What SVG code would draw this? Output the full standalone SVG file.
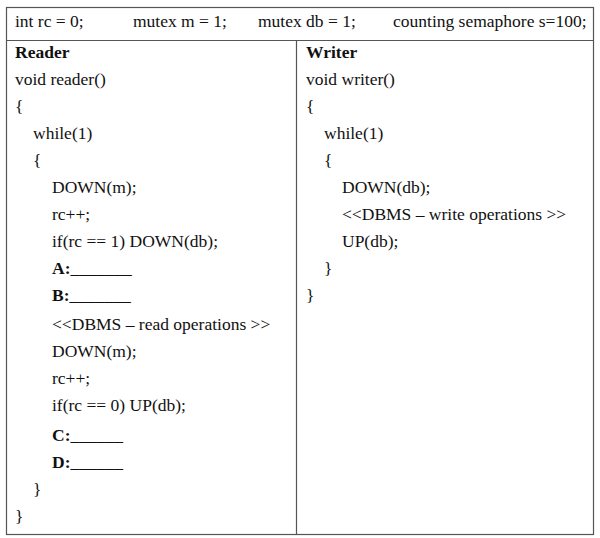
<svg xmlns="http://www.w3.org/2000/svg" width="600" height="538" viewBox="0 0 600 538">
<style>
text{font-family:"Liberation Serif",serif;font-size:17.5px;fill:#111}
.b{font-weight:bold}
.ln{stroke:#555;stroke-width:1.2;fill:none}
</style>
<rect width="600" height="538" fill="#fff"/>
<g id="table">
<rect class="ln" x="6.5" y="7.5" width="587" height="527"/>
<line class="ln" x1="6.5" y1="40.5" x2="593.5" y2="40.5"/>
<line class="ln" x1="296.5" y1="40.5" x2="296.5" y2="534.5"/>
</g>
<g id="header">
<text x="15" y="27">int rc = 0;</text>
<text x="133" y="27">mutex m = 1;</text>
<text x="258" y="27">mutex db = 1;</text>
<text x="393" y="27">counting semaphore s=100;</text>
</g>
<g id="reader">
<text x="15" y="58" class="b">Reader</text>
<text x="15" y="85">void reader()</text>
<text x="15" y="112">{</text>
<text x="33" y="139">while(1)</text>
<text x="33" y="166">{</text>
<text x="52" y="193">DOWN(m);</text>
<text x="52" y="220">rc++;</text>
<text x="52" y="247">if(rc == 1) DOWN(db);</text>
<text x="52" y="274" class="b">A:<tspan font-weight="normal">_______</tspan></text>
<text x="52" y="301" class="b">B:<tspan font-weight="normal">_______</tspan></text>
<text x="52" y="330">&lt;&lt;DBMS – read operations &gt;&gt;</text>
<text x="52" y="357">DOWN(m);</text>
<text x="52" y="384">rc++;</text>
<text x="52" y="411">if(rc == 0) UP(db);</text>
<text x="52" y="441" class="b">C:<tspan font-weight="normal">______</tspan></text>
<text x="52" y="468" class="b">D:<tspan font-weight="normal">______</tspan></text>
<text x="33" y="495">}</text>
<text x="15" y="522">}</text>
</g>
<g id="writer">
<text x="306" y="58" class="b">Writer</text>
<text x="306" y="85">void writer()</text>
<text x="306" y="112">{</text>
<text x="324" y="139">while(1)</text>
<text x="324" y="166">{</text>
<text x="342" y="193">DOWN(db);</text>
<text x="342" y="220">&lt;&lt;DBMS – write operations &gt;&gt;</text>
<text x="342" y="247">UP(db);</text>
<text x="324" y="274">}</text>
<text x="306" y="301">}</text>
</g>
<g id="connectors"/>
</svg>
